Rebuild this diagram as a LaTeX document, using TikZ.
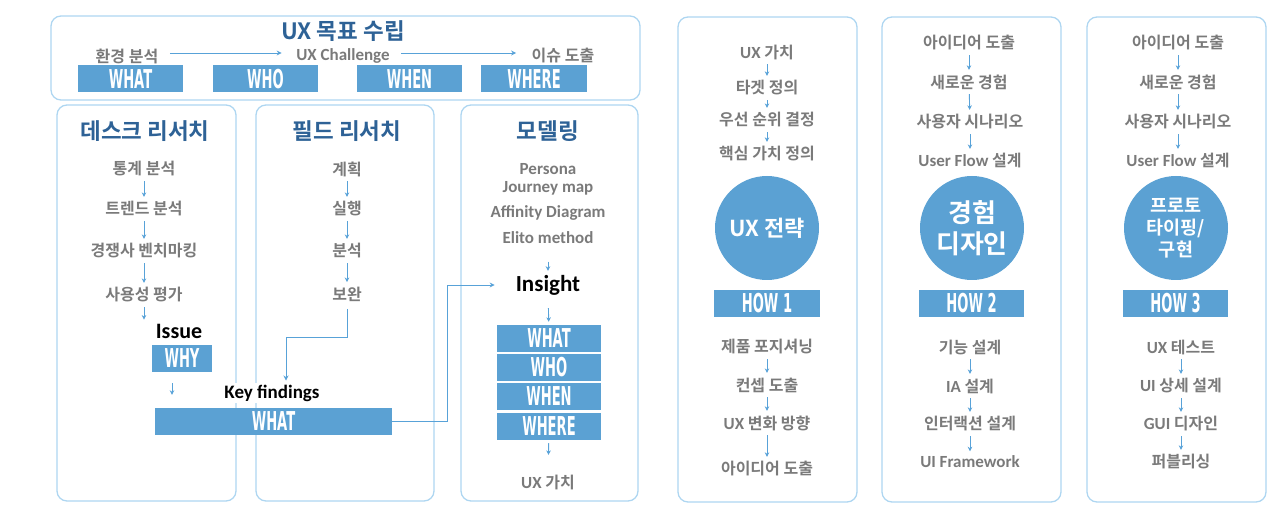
\documentclass[tikz,border=0pt]{standalone}
\usepackage{fontspec}
\usetikzlibrary{arrows.meta}
\setmainfont{Carlito}[BoldFont=* Bold]
\newfontfamily\kr{Noto Sans CJK KR}[BoldFont=* Bold]
\newfontfamily\cond{DejaVu Sans Condensed}
\definecolor{barblue}{RGB}{91,161,211}
\definecolor{titleblue}{RGB}{46,98,150}
\definecolor{graytxt}{RGB}{122,122,122}
\definecolor{frameblue}{RGB}{174,214,241}
\definecolor{arrowblue}{RGB}{88,162,216}
\newcommand\lat[1]{{\normalfont\bfseries\fontsize{17}{19}\selectfont #1}}
\newcommand\barlabel[1]{\scalebox{0.56}[1]{#1}}
\tikzset{
  panel/.style={draw=frameblue, line width=1.3pt, rounded corners=10pt},
  paneltitle/.style={text=titleblue, font=\kr\bfseries\fontsize{22.5}{26}\selectfont},
  item/.style={text=graytxt, inner sep=1.5pt, font=\kr\bfseries\fontsize{16}{18}\selectfont},
  itemlat/.style={item, font=\bfseries\fontsize{17}{19}\selectfont},
  keyword/.style={inner sep=1pt, font=\bfseries\fontsize{22}{24}\selectfont},
  bar/.style={fill=barblue, text=white, inner sep=0pt, minimum height=27pt, font=\cond\bfseries\fontsize{26}{26}\selectfont},
  bigdot/.style={circle, fill=barblue, text=white, minimum size=104pt, inner sep=0pt, align=center},
  flow/.style={draw=arrowblue, line width=0.9pt, -{Stealth[length=4.5pt,width=4.5pt]}, shorten <=3pt, shorten >=3pt},
  link/.style={draw=arrowblue, line width=0.9pt, -{Stealth[length=5pt,width=5pt]}},
}

\begin{document}
\begin{tikzpicture}[x=1pt, y=-1pt]
  \useasboundingbox (0,0) rectangle (1275,513);
  % frames
  \draw[panel] (51,16) rectangle (640,100);
  \draw[panel] (57,105) rectangle (236,501);
  \draw[panel] (256,105) rectangle (434,501);
  \draw[panel] (461,105) rectangle (638,501);
  \draw[panel] (678,17) rectangle (857,502);
  \draw[panel] (882,17) rectangle (1061,502);
  \draw[panel] (1087,17) rectangle (1266,502);

  % UX goal
  \node[paneltitle] (goal) at (343,31) {UX 목표 수립};
  \node[item] (env) at (127,56) {환경 분석};
  \node[itemlat] (chal) at (343,56) {UX Challenge};
  \node[item] (issueout) at (563,56) {이슈 도출};
  \draw[link, shorten <=10pt, shorten >=13pt] ([yshift=3pt]env.east) -- ([yshift=3pt]chal.west);
  \draw[link, shorten <=10pt, shorten >=14pt] ([yshift=3pt]chal.east) -- ([yshift=3pt]issueout.west);
  \node[bar, minimum width=105pt] (gwhat) at (130.5,79) {\barlabel{WHAT}};
  \node[bar, minimum width=105pt] (gwho) at (265.5,79) {\barlabel{WHO}};
  \node[bar, minimum width=105pt] (gwhen) at (409.5,79) {\barlabel{WHEN}};
  \node[bar, minimum width=106pt] (gwhere) at (534,79) {\barlabel{WHERE}};

  % desk research
  \node[paneltitle] (desk) at (145,131) {데스크 리서치};
  \node[item] (stat) at (144,169) {통계 분석};
  \node[item] (trend) at (144,209) {트렌드 분석};
  \node[item] (bench) at (144,251) {경쟁사 벤치마킹};
  \node[item] (usab) at (144,295) {사용성 평가};
  \draw[flow] (stat) -- (trend);
  \draw[flow] (trend) -- (bench);
  \draw[flow] (bench) -- (usab);
  \node[keyword] (issue) at (179,331) {Issue};
  \draw[flow] (usab.south) -- (usab.south |- issue.north);
  \node[bar, minimum width=60pt] (why) at (182,358.5) {\barlabel{WHY}};

  % field research
  \node[paneltitle] (field) at (347,131) {필드 리서치};
  \node[item] (plan) at (347,169) {계획};
  \node[item] (run) at (347,209) {실행};
  \node[item] (anal) at (347,251) {분석};
  \node[item] (bowan) at (347,294) {보완};
  \draw[flow] (plan) -- (run);
  \draw[flow] (run) -- (anal);
  \draw[flow] (anal) -- (bowan);

  % key findings
  \node[keyword, font=\bfseries\fontsize{19}{21}\selectfont, fill=white, inner sep=2pt] (kf) at (272,393) {Key findings};
  \node[bar, minimum width=237pt] (kfwhat) at (273.5,421.5) {\barlabel{WHAT}};
  \draw[flow, shorten <=11pt, shorten >=13pt] ([xshift=-10pt]why.south) -- ([xshift=-10pt]why.south |- kfwhat.north);
  \coordinate (fieldbend) at (286,337);
  \draw[link, shorten <=6pt, shorten >=2pt] (bowan.south) |- (fieldbend) -- (fieldbend |- kf.north);

  % modeling
  \node[paneltitle] (model) at (548,131) {모델링};
  \node[itemlat] (persona) at (548,169) {Persona};
  \node[itemlat] (journey) at (548,188) {Journey map};
  \node[itemlat] (affinity) at (548,213) {Affinity Diagram};
  \node[itemlat] (elito) at (548,238) {Elito method};
  \node[keyword, font=\bfseries\fontsize{23}{25}\selectfont] (insight) at (548,285) {Insight};
  \draw[flow, shorten <=16pt] (elito) -- (insight);
  \coordinate (insbend) at (447,285);
  \draw[link, shorten >=20pt] (kfwhat.east) -| (insbend) -- (insight.west);
  \node[bar, minimum width=104pt] (mwhat) at (549,338.5) {\barlabel{WHAT}};
  \node[bar, minimum width=104pt] (mwho) at (549,367) {\barlabel{WHO}};
  \node[bar, minimum width=104pt] (mwhen) at (549,396.5) {\barlabel{WHEN}};
  \node[bar, minimum width=104pt] (mwhere) at (549,426.5) {\barlabel{WHERE}};
  \draw[flow, shorten <=12pt] (insight) -- (mwhat);
  \node[item] (mvalue) at (548,482) {\lat{UX} 가치};
  \draw[flow, shorten >=18pt] (mwhere) -- (mvalue);

  % HOW 1
  \node[item] (value1) at (767,52) {\lat{UX} 가치};
  \node[item] (target) at (767,88) {타겟 정의};
  \node[item] (prio) at (767,120) {우선 순위 결정};
  \node[item] (core) at (767,154) {핵심 가치 정의};
  \draw[flow] (value1) -- (target);
  \draw[flow] (target) -- (prio);
  \draw[flow] (prio) -- (core);
  \node[bigdot, font=\kr\bfseries\fontsize{22}{24}\selectfont] (strategy) at (767,228) {UX 전략};
  \node[bar, minimum width=106pt] (how1) at (767,303.5) {\barlabel{HOW 1}};
  \node[item] (posit) at (767,347) {제품 포지셔닝};
  \node[item] (concept) at (767,385) {컨셉 도출};
  \node[item] (change) at (767,423) {\lat{UX} 변화 방향};
  \node[item] (idea1) at (767,469) {아이디어 도출};
  \draw[flow] (posit) -- (concept);
  \draw[flow] (concept) -- (change);
  \draw[flow] (change) -- (idea1);

  % HOW 2
  \node[item] (idea2) at (969,43) {아이디어 도출};
  \node[item] (newexp2) at (969,82) {새로운 경험};
  \node[item] (scen2) at (970,122) {사용자 시나리오};
  \node[item] (uflow2) at (970,161) {\lat{User Flow} 설계};
  \draw[flow] (idea2) -- (newexp2);
  \draw[flow] (newexp2) -- (scen2);
  \draw[flow] (scen2) -- (uflow2);
  \node[bigdot, font=\kr\bfseries\fontsize{26}{31}\selectfont] (expdesign) at (972,228) {경험\\디자인};
  \node[bar, minimum width=105pt] (how2) at (971.5,303.5) {\barlabel{HOW 2}};
  \node[item] (func) at (970,347) {기능 설계};
  \node[item] (ia) at (970,386) {\lat{IA} 설계};
  \node[item] (inter) at (970,424) {인터랙션 설계};
  \node[itemlat] (uifw) at (970,462) {UI Framework};
  \draw[flow] (func) -- (ia);
  \draw[flow] (ia) -- (inter);
  \draw[flow] (inter) -- (uifw);

  % HOW 3
  \node[item] (idea3) at (1178,43) {아이디어 도출};
  \node[item] (newexp3) at (1178,82) {새로운 경험};
  \node[item] (scen3) at (1178,122) {사용자 시나리오};
  \node[item] (uflow3) at (1178,161) {\lat{User Flow} 설계};
  \draw[flow] (idea3) -- (newexp3);
  \draw[flow] (newexp3) -- (scen3);
  \draw[flow] (scen3) -- (uflow3);
  \node[bigdot, font=\kr\bfseries\fontsize{18.5}{22}\selectfont] (proto) at (1176,228) {프로토\\타이핑/\\구현};
  \node[bar, minimum width=105pt] (how3) at (1175.5,303.5) {\barlabel{HOW 3}};
  \node[item] (uxtest) at (1181,347) {\lat{UX} 테스트};
  \node[item] (uidetail) at (1181,386) {\lat{UI} 상세 설계};
  \node[item] (gui) at (1181,424) {\lat{GUI} 디자인};
  \node[item] (publish) at (1181,462) {퍼블리싱};
  \draw[flow] (uxtest) -- (uidetail);
  \draw[flow] (uidetail) -- (gui);
  \draw[flow] (gui) -- (publish);
\end{tikzpicture}
\end{document}
